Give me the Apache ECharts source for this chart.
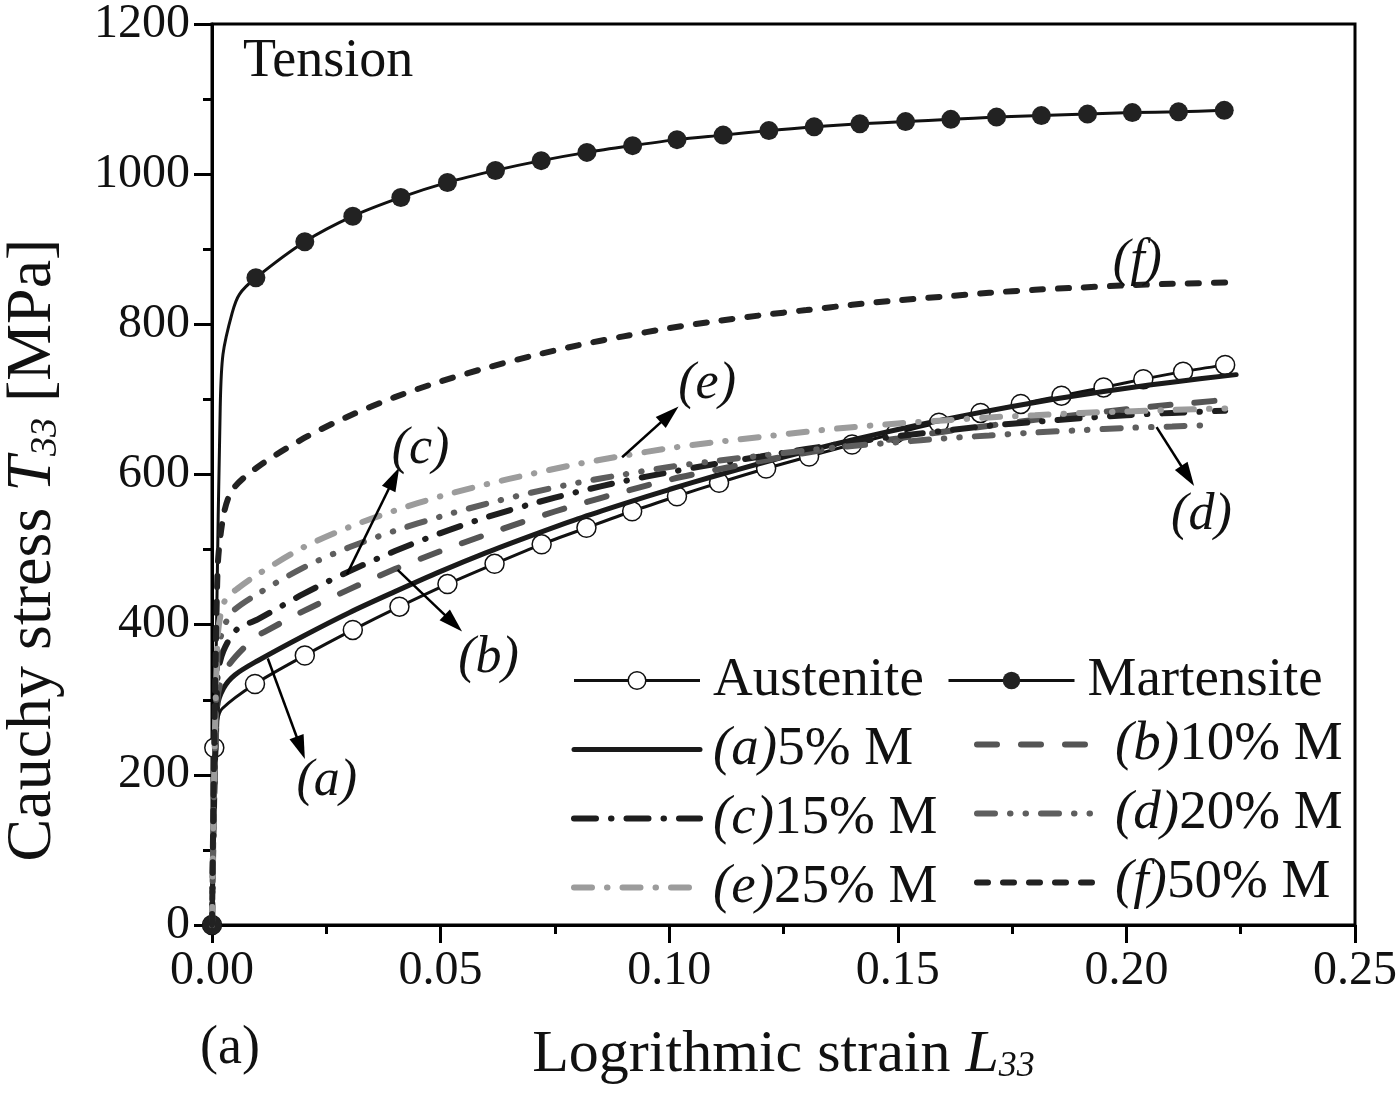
<!DOCTYPE html>
<html>
<head>
<meta charset="utf-8">
<script src="https://cdn.jsdelivr.net/npm/echarts@6/dist/echarts.min.js"></script>
<style>
  html, body { margin: 0; padding: 0; background: #fff; }
  #chart { width: 1400px; height: 1099px; }
</style>
</head>
<body>
<div id="chart"></div>
<script>
// x: logarithmic strain L33, y: Cauchy stress T33 [MPa]
const austX = [0, 0.0005, 0.0012, 0.0022, 0.0094, 0.0203, 0.0308, 0.0410, 0.0515, 0.0618, 0.0721, 0.0819, 0.0919, 0.1017, 0.1109, 0.1212, 0.1306, 0.1400, 0.1496, 0.1590, 0.1681, 0.1769, 0.1858, 0.1950, 0.2037, 0.2124, 0.2216];
const austY = [0, 236, 272, 288, 321, 359, 393, 424, 454, 481, 507, 529, 551, 571, 589, 608, 624, 640, 655, 669, 682, 694, 705, 716, 727, 737, 746];
const austNoMark = [2, 3];

const martX = [0, 0.0010, 0.0018, 0.0024, 0.0044, 0.0060, 0.0096, 0.0203, 0.0308, 0.0413, 0.0515, 0.0620, 0.0720, 0.0820, 0.0920, 0.1017, 0.1118, 0.1218, 0.1317, 0.1417, 0.1517, 0.1616, 0.1716, 0.1814, 0.1915, 0.2013, 0.2114, 0.2214];
const martY = [0, 400, 690, 760, 815, 840, 862, 910, 944, 969, 989, 1005, 1018, 1029, 1038, 1046, 1052, 1058, 1063, 1067, 1070, 1073, 1076, 1078, 1080, 1082, 1083, 1085];
const martNoMark = [1, 2, 3, 4, 5];

const aX = [0, 0.0012, 0.0025, 0.005, 0.01, 0.02, 0.03, 0.04, 0.05, 0.06, 0.07, 0.08, 0.09, 0.10, 0.11, 0.12, 0.13, 0.14, 0.15, 0.16, 0.17, 0.18, 0.19, 0.20, 0.21, 0.224];
const aY = [0, 290, 315, 333, 352, 385, 416, 444, 471, 496, 519, 541, 561, 580, 598, 615, 631, 646, 660, 673, 685, 696, 706, 715, 723, 733];

const bX = [0, 0.0012, 0.003, 0.009, 0.012, 0.02, 0.03, 0.04, 0.05, 0.06, 0.07, 0.08, 0.09, 0.10, 0.11, 0.12, 0.13, 0.14, 0.15, 0.16, 0.17, 0.18, 0.19, 0.20, 0.21, 0.221];
const bY = [0, 300, 340, 381, 392, 418, 447, 474, 498, 520, 541, 560, 577, 593, 606, 618, 629, 639, 648, 657, 665, 673, 680, 687, 693, 699];

const cX = [0, 0.0012, 0.0025, 0.0055, 0.01, 0.02, 0.03, 0.04, 0.05, 0.06, 0.07, 0.08, 0.09, 0.10, 0.11, 0.12, 0.13, 0.14, 0.15, 0.16, 0.17, 0.18, 0.19, 0.20, 0.21, 0.2216];
const cY = [0, 330, 365, 394, 407, 441, 471, 498, 522, 543, 561, 577, 591, 603, 614, 624, 634, 643, 651, 658, 665, 670, 675, 679, 682, 685];

const dX = [0, 0.0012, 0.0025, 0.0046, 0.01, 0.02, 0.03, 0.04, 0.05, 0.06, 0.07, 0.08, 0.09, 0.10, 0.11, 0.12, 0.13, 0.14, 0.15, 0.16, 0.17, 0.18, 0.19, 0.20, 0.21, 0.2186];
const dY = [0, 360, 395, 418, 441, 476, 503, 525, 544, 561, 576, 589, 600, 610, 618, 625, 632, 638, 643, 648, 652, 656, 659, 662, 664, 666];

const eX = [0, 0.0012, 0.0028, 0.006, 0.01, 0.02, 0.03, 0.04, 0.05, 0.06, 0.07, 0.08, 0.09, 0.10, 0.11, 0.12, 0.13, 0.14, 0.15, 0.16, 0.17, 0.18, 0.19, 0.20, 0.21, 0.2216];
const eY = [0, 380, 432, 450, 467, 503, 530, 552, 571, 587, 601, 614, 625, 635, 643, 650, 657, 663, 668, 672, 676, 679, 682, 684, 686, 688];

const fX = [0, 0.0012, 0.0025, 0.0045, 0.01, 0.02, 0.03, 0.04, 0.05, 0.06, 0.07, 0.08, 0.09, 0.10, 0.11, 0.12, 0.13, 0.14, 0.15, 0.16, 0.17, 0.18, 0.19, 0.20, 0.21, 0.224];
const fY = [0, 470, 545, 580, 610, 648, 678, 703, 724, 742, 758, 772, 784, 795, 804, 812, 819, 826, 832, 837, 842, 846, 849, 852, 854, 856];

// curve labels and arrows (tail x, tail y, head x, head y)
const noteText = ['(a)', '(b)', '(c)', '(d)', '(e)', '(f)'];
const noteX = [0.0251, 0.0605, 0.0456, 0.2164, 0.1083, 0.2024];
const noteY = [192, 355, 634, 546, 720, 884];
const arrows = [
  [0.0122, 355, 0.0194, 236],
  [0.0406, 473, 0.0528, 402],
  [0.0295, 467, 0.0398, 595],
  [0.2066, 663, 0.2134, 598],
  [0.0897, 623, 0.1001, 680]
];

const serif = "'Liberation Serif', 'Times New Roman', serif";

function pts(xs, ys, noMark) {
  return xs.map(function (x, i) {
    if (noMark && noMark.indexOf(i) >= 0) return { value: [x, ys[i]], symbol: 'none' };
    return [x, ys[i]];
  });
}

function curve(name, xs, ys, color, width, dash) {
  return {
    name: name,
    type: 'line',
    data: pts(xs, ys),
    symbol: 'none',
    smooth: 0.3,
    itemStyle: { color: color },
    lineStyle: { color: color, width: width, type: dash || 'solid', cap: 'round' },
    z: 3
  };
}

const chart = echarts.init(document.getElementById('chart'));

const hideDot = { opacity: 0 };
const legendText = {
  fontFamily: serif,
  fontSize: 55,
  color: '#111',
  lineHeight: 50,
  padding: [0, 0, 0, 8],
  rich: {
    i: { fontFamily: serif, fontSize: 55, fontStyle: 'italic', color: '#111' },
    n: { fontFamily: serif, fontSize: 55, color: '#111' }
  }
};
function legendFmt(name) {
  const m = name.match(/^(\([a-f]\))(.*)$/);
  return m ? '{i|' + m[1] + '}{n|' + m[2] + '}' : '{n|' + name + '}';
}
function legendBox(left, top, width, items) {
  return {
    orient: 'vertical',
    left: left,
    top: top,
    padding: 0,
    itemWidth: width,
    itemHeight: 22,
    itemGap: 14,
    selectedMode: false,
    textStyle: legendText,
    formatter: legendFmt,
    data: items
  };
}

const option = {
  animation: false,
  backgroundColor: '#fff',
  title: [
    { text: 'Tension', left: 243, top: 35, padding: 0,
      textStyle: { fontFamily: serif, fontSize: 54, fontWeight: 'normal', color: '#111' } },
    { text: '(a)', left: 200, top: 1022, padding: 0,
      textStyle: { fontFamily: serif, fontSize: 54, fontWeight: 'normal', color: '#111' } }
  ],
  grid: {
    left: 212, top: 20, width: 1145, height: 905,
    show: true, borderColor: '#000', borderWidth: 3
  },
  legend: [
    legendBox(571, 653, 126, [
      { name: 'Austenite', itemStyle: { borderWidth: 1.5 }, lineStyle: { width: 3 } },
      { name: '(a)5% M', itemStyle: hideDot, lineStyle: { width: 5 } },
      { name: '(c)15% M', itemStyle: hideDot, lineStyle: { width: 6 } },
      { name: '(e)25% M', itemStyle: hideDot, lineStyle: { width: 6 } }
    ]),
    legendBox(947, 653, 126, [
      { name: 'Martensite', lineStyle: { width: 3 } }
    ]),
    legendBox(974, 717, 125, [
      { name: '(b)10% M', itemStyle: hideDot, lineStyle: { width: 6 } },
      { name: '(d)20% M', itemStyle: hideDot, lineStyle: { width: 6 } },
      { name: '(f)50% M', itemStyle: hideDot, lineStyle: { width: 6 } }
    ])
  ],
  xAxis: {
    type: 'value',
    min: 0, max: 0.25, interval: 0.05,
    name: '{n|Logrithmic strain }{t|L}{s|33}',
    nameLocation: 'middle',
    nameGap: 100,
    nameTextStyle: {
      rich: {
        n: { fontFamily: serif, fontSize: 60, color: '#111', lineHeight: 60 },
        t: { fontFamily: serif, fontSize: 60, fontStyle: 'italic', color: '#111', lineHeight: 60 },
        s: { fontFamily: serif, fontSize: 36, fontStyle: 'italic', color: '#111', lineHeight: 16, verticalAlign: 'bottom' }
      }
    },
    axisLine: { lineStyle: { color: '#000', width: 3 } },
    axisTick: { length: 18, lineStyle: { color: '#000', width: 3 } },
    minorTick: { show: true, splitNumber: 2, length: 9, lineStyle: { color: '#000', width: 3 } },
    axisLabel: {
      margin: 22, fontFamily: serif, fontSize: 48, color: '#111',
      formatter: function (v) { return v.toFixed(2); }
    },
    splitLine: { show: false }
  },
  yAxis: {
    type: 'value',
    min: 0, max: 1200, interval: 200,
    axisLine: { show: true, lineStyle: { color: '#000', width: 3 } },
    axisTick: { show: true, length: 18, lineStyle: { color: '#000', width: 3 } },
    minorTick: { show: true, splitNumber: 2, length: 9, lineStyle: { color: '#000', width: 3 } },
    axisLabel: {
      margin: 22, fontFamily: serif, fontSize: 48, color: '#111',
      formatter: function (v) { return String(v); }
    },
    splitLine: { show: false }
  },
  graphic: [{
    type: 'text',
    x: 33, y: 550,
    rotation: Math.PI / 2,
    style: {
      text: '{n|Cauchy stress }{t|T}{s|33}{n| [MPa]}',
      align: 'center',
      verticalAlign: 'middle',
      rich: {
        n: { fontFamily: serif, fontSize: 64, fill: '#111', lineHeight: 64 },
        t: { fontFamily: serif, fontSize: 64, fontStyle: 'italic', fill: '#111', lineHeight: 64 },
        s: { fontFamily: serif, fontSize: 38, fontStyle: 'italic', fill: '#111', lineHeight: 18, verticalAlign: 'bottom' }
      }
    }
  }],
  series: [
    {
      name: 'Austenite',
      type: 'line',
      data: pts(austX, austY, austNoMark),
      symbol: 'circle',
      symbolSize: 19,
      showAllSymbol: true,
      smooth: 0.3,
      itemStyle: { color: '#fff', borderColor: '#111', borderWidth: 1.5 },
      lineStyle: { color: '#111', width: 3 },
      z: 2
    },
    {
      name: 'Martensite',
      type: 'line',
      data: pts(martX, martY, martNoMark),
      symbol: 'circle',
      symbolSize: 19,
      showAllSymbol: true,
      smooth: 0.3,
      itemStyle: { color: '#222' },
      lineStyle: { color: '#111', width: 3 },
      z: 2
    },
    curve('(a)5% M', aX, aY, '#1a1a1a', 5),
    curve('(b)10% M', bX, bY, '#555555', 6, [20, 24]),
    curve('(c)15% M', cX, cY, '#1e1e1e', 6, [22, 15, 0.5, 15]),
    curve('(d)20% M', dX, dY, '#5e5e5e', 6, [18, 15, 0.5, 15, 0.5, 15]),
    curve('(e)25% M', eX, eY, '#9c9c9c', 6, [18, 15, 0.5, 15]),
    curve('(f)50% M', fX, fY, '#222222', 6, [11, 15]),
    {
      name: 'notes',
      type: 'scatter',
      silent: true,
      symbolSize: 0,
      itemStyle: { opacity: 1, color: '#111' },
      data: noteX.map(function (x, i) { return [x, noteY[i], noteText[i]]; }),
      label: {
        show: true,
        position: 'inside',
        color: '#111',
        opacity: 1,
        formatter: function (p) { return '{i|' + p.value[2] + '}'; },
        rich: { i: { fontFamily: serif, fontSize: 52, fontStyle: 'italic', color: '#111' } }
      },
      markLine: {
        silent: true,
        animation: false,
        symbol: ['none', 'triangle'],
        label: { show: false },
        lineStyle: { color: '#000', width: 2.5, type: 'solid' },
        emphasis: { disabled: true },
        data: arrows.map(function (a) {
          return [
            { coord: [a[0], a[1]] },
            { coord: [a[2], a[3]], symbolSize: [15, 24] }
          ];
        })
      },
      z: 5
    }
  ]
};

chart.setOption(option);
</script>
</body>
</html>
